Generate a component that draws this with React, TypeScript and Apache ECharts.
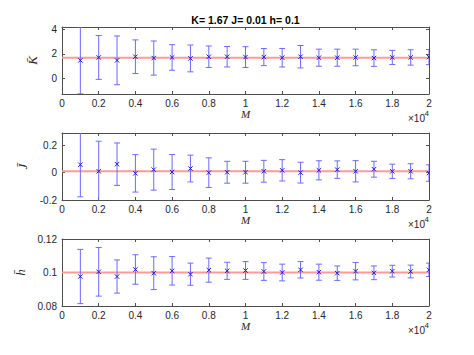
import React, { useEffect, useRef } from "react";
import * as echarts from "echarts";

const TRUE_K = 1.67;
const TRUE_J = 0.01;
const TRUE_H = 0.1;

const M = [1000, 2000, 3000, 4000, 5000, 6000, 7000, 8000, 9000, 10000, 11000, 12000, 13000, 14000, 15000, 16000, 17000, 18000, 19000, 20000];

const kMean = [1.46, 1.7, 1.46, 1.76, 1.65, 1.7, 1.62, 1.76, 1.76, 1.73, 1.73, 1.68, 1.76, 1.68, 1.68, 1.7, 1.65, 1.7, 1.7, 1.73];
const kErr = [2.75, 1.8, 2.0, 1.38, 1.4, 1.05, 1.1, 0.88, 0.84, 0.85, 0.7, 0.76, 0.92, 0.7, 0.7, 0.68, 0.68, 0.58, 0.63, 0.62];

const jMean = [0.058, 0.01, 0.062, -0.005, 0.022, 0.005, 0.03, 0.0, 0.003, 0.003, 0.01, 0.017, 0.0, 0.017, 0.022, 0.01, 0.025, 0.01, 0.01, -0.003];
const jErr = [0.235, 0.22, 0.155, 0.137, 0.15, 0.128, 0.098, 0.108, 0.08, 0.08, 0.08, 0.078, 0.076, 0.07, 0.064, 0.078, 0.058, 0.052, 0.055, 0.06];

const hMean = [0.0976, 0.1004, 0.0976, 0.1018, 0.0996, 0.101, 0.099, 0.1014, 0.101, 0.1012, 0.1006, 0.1, 0.1016, 0.1002, 0.0996, 0.1008, 0.0998, 0.1008, 0.1006, 0.1016];
const hErr = [0.0162, 0.0145, 0.0099, 0.0088, 0.0098, 0.0085, 0.0066, 0.0072, 0.0051, 0.0053, 0.0053, 0.005, 0.0049, 0.0048, 0.0043, 0.0052, 0.0041, 0.0035, 0.0038, 0.004];

const xTicks = [0, 2000, 4000, 6000, 8000, 10000, 12000, 14000, 16000, 18000, 20000];
const kTicks = [0, 2, 4];
const jTicks = [-0.2, 0, 0.2];
const hTicks = [0.08, 0.1, 0.12];

const kRange = [-1.3, 4.2];
const jRange = [-0.2, 0.29];
const hRange = [0.08, 0.12];

const AX = "#4d4d4d";
const TXT = "#262626";
const BAR = "#6b6bff";
const MARK = "#1a1acc";
const REF = "#ff9a9a";

const GL = 62;
const GW = 367;
const panels = [
  { top: 27, height: 67, mean: kMean, err: kErr, ref: TRUE_K, ticks: kTicks, range: kRange, name: "K\u0304", nameGap: 23 },
  { top: 133, height: 67, mean: jMean, err: jErr, ref: TRUE_J, ticks: jTicks, range: jRange, name: "J\u0304", nameGap: 29 },
  { top: 239, height: 67, mean: hMean, err: hErr, ref: TRUE_H, ticks: hTicks, range: hRange, name: "h\u0304", nameGap: 34 },
];

const renderErr = (params: any, api: any) => {
  const x = api.value(0);
  const m = api.value(1);
  const e = api.value(2);
  const pt = api.coord([x, m + e]);
  const pb = api.coord([x, m - e]);
  const pm = api.coord([x, m]);
  const cw = 3;
  const s = 2.2;
  const bs = { stroke: BAR, lineWidth: 1 };
  const ms = { stroke: MARK, lineWidth: 1 };
  return {
    type: "group",
    children: [
      { type: "line", shape: { x1: pt[0], y1: pt[1], x2: pb[0], y2: pb[1] }, style: bs },
      { type: "line", shape: { x1: pt[0] - cw, y1: pt[1], x2: pt[0] + cw, y2: pt[1] }, style: bs },
      { type: "line", shape: { x1: pb[0] - cw, y1: pb[1], x2: pb[0] + cw, y2: pb[1] }, style: bs },
      { type: "line", shape: { x1: pm[0] - s, y1: pm[1] - s, x2: pm[0] + s, y2: pm[1] + s }, style: ms },
      { type: "line", shape: { x1: pm[0] - s, y1: pm[1] + s, x2: pm[0] + s, y2: pm[1] - s }, style: ms },
    ],
  };
};

const fmtX = (v: number) => String(+(v / 10000).toFixed(1));

export default function App() {
  const ref = useRef<HTMLDivElement>(null);
  useEffect(() => {
    if (!ref.current) return;
    const chart = echarts.init(ref.current, null, { renderer: "svg" });
    const grid: any[] = [];
    const xAxis: any[] = [];
    const yAxis: any[] = [];
    const series: any[] = [];
    const graphic: any[] = [];
    panels.forEach((p, i) => {
      grid.push({ left: GL, width: GW, top: p.top, height: p.height });
      const baseX = {
        gridIndex: i,
        type: "value",
        min: 0,
        max: 20000,
        splitLine: { show: false },
        axisLine: { show: true, onZero: false, lineStyle: { color: AX, width: 1 } },
        axisTick: { show: true, inside: true, length: 3, customValues: xTicks, lineStyle: { color: AX } },
      };
      xAxis.push({
        ...baseX,
        position: "bottom",
        axisLabel: { show: true, customValues: xTicks, formatter: fmtX, color: TXT, fontSize: 10, fontFamily: "Liberation Sans", margin: 4 },
        name: "M",
        nameLocation: "middle",
        nameGap: 12,
        nameTextStyle: { fontStyle: "italic", fontFamily: "Liberation Serif", fontSize: 11, color: TXT },
      });
      xAxis.push({ ...baseX, position: "top", axisLabel: { show: false } });
      const baseY = {
        gridIndex: i,
        type: "value",
        min: p.range[0],
        max: p.range[1],
        splitLine: { show: false },
        axisLine: { show: true, onZero: false, lineStyle: { color: AX, width: 1 } },
        axisTick: { show: true, inside: true, length: 3, customValues: p.ticks, lineStyle: { color: AX } },
      };
      yAxis.push({
        ...baseY,
        position: "left",
        axisLabel: { show: true, customValues: p.ticks, color: TXT, fontSize: 10, fontFamily: "Liberation Sans", margin: 5 },
        name: p.name,
        nameLocation: "middle",
        nameRotate: 90,
        nameGap: p.nameGap,
        nameTextStyle: { fontStyle: "italic", fontFamily: "Liberation Serif", fontSize: 13, color: TXT },
      });
      yAxis.push({ ...baseY, position: "right", axisLabel: { show: false } });
      series.push({
        type: "line",
        xAxisIndex: 2 * i,
        yAxisIndex: 2 * i,
        data: [[M[0] - 1000, p.ref], [M[M.length - 1], p.ref]],
        symbol: "none",
        lineStyle: { color: REF, width: 2 },
        z: 1,
      });
      series.push({
        type: "custom",
        xAxisIndex: 2 * i,
        yAxisIndex: 2 * i,
        clip: true,
        renderItem: renderErr,
        encode: { x: 0, y: 1 },
        data: M.map((x, k) => [x, p.mean[k], p.err[k]]),
        z: 2,
      });
      const by = p.top + p.height;
      graphic.push({
        type: "text",
        x: 408,
        y: by + 24,
        style: { text: "\u00d710", fontSize: 10, fontFamily: "Liberation Sans", fill: TXT, verticalAlign: "middle" },
      });
      graphic.push({
        type: "text",
        x: 424.5,
        y: by + 19.5,
        style: { text: "4", fontSize: 8, fontFamily: "Liberation Sans", fill: TXT, verticalAlign: "middle" },
      });
    });
    chart.setOption({
      animation: false,
      backgroundColor: "#ffffff",
      title: {
        text: `K= ${TRUE_K} J= ${TRUE_J} h= ${TRUE_H}`,
        left: GL + GW / 2,
        top: 14,
        textAlign: "center",
        padding: 0,
        textStyle: { fontSize: 10.5, fontWeight: "bold", color: "#000", fontFamily: "Liberation Sans" },
      },
      grid,
      xAxis,
      yAxis,
      series,
      graphic,
    });
    return () => chart.dispose();
  }, []);
  return <div ref={ref} style={{ position: "fixed", left: 0, top: 0, width: 474, height: 355, background: "#fff" }} />;
}
